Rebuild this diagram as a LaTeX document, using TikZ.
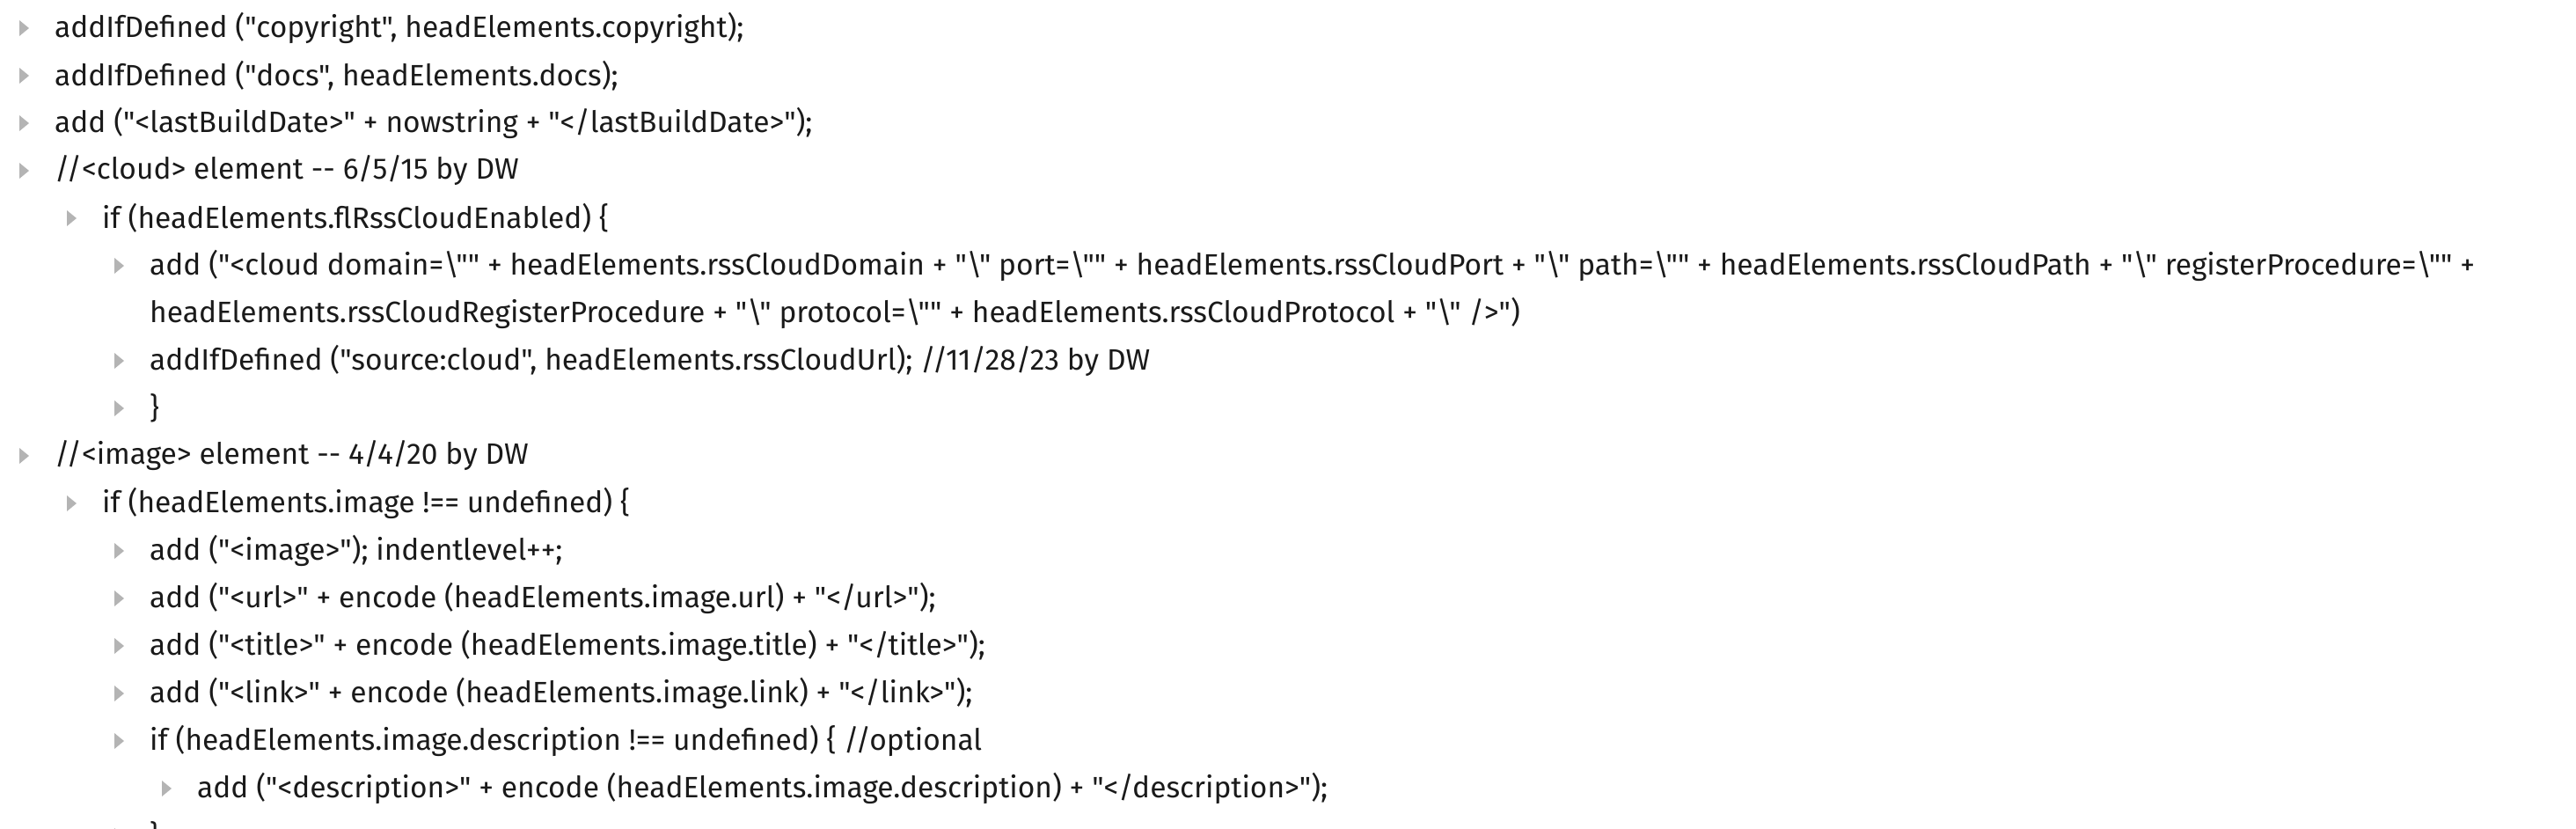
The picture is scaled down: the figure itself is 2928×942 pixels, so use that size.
\documentclass[tikz,border=0pt]{standalone}
\usepackage{fontspec}
\newfontfamily\codefont{Fira Sans}
\definecolor{txt}{HTML}{1A1A1A}
\definecolor{tri}{HTML}{B4B4B4}
\newcommand\codeln[4]{% name, level, line index, text
  \pgfmathsetmacro\yy{32+54*#3}\pgfmathsetmacro\xx{62+54*#2}
  \fill[tri] (\xx-40,\yy-9) -- (\xx-29,\yy) -- (\xx-40,\yy+9) -- cycle;
  \node[code] (#1) at (\xx,\yy) {#4};}
\newcommand\codelnc[4]{%
  \pgfmathsetmacro\yy{32+54*#3}\pgfmathsetmacro\xx{62+54*#2}
  \node[code] (#1) at (\xx,\yy) {#4};}
\begin{document}
\begin{tikzpicture}[x=1pt,y=-1pt,code/.style={anchor=west,inner sep=0pt,text=txt,font=\codefont\fontsize{33.5}{38}\selectfont}]
\useasboundingbox (0,0) rectangle (2928,942);
\codeln{l0}{0}{0}{addIfDefined ("copyright", headElements.copyright);}
\codeln{l1}{0}{1}{addIfDefined ("docs", headElements.docs);}
\codeln{l2}{0}{2}{add ("<lastBuildDate>" + nowstring + "</lastBuildDate>");}
\codeln{l3}{0}{3}{//<cloud> element -- 6/5/15 by DW}
\codeln{l4}{1}{4}{if (headElements.flRssCloudEnabled) \{}
\codeln{l5}{2}{5}{add ("<cloud domain=\textbackslash"" + headElements.rssCloudDomain + "\textbackslash" port=\textbackslash"" + headElements.rssCloudPort + "\textbackslash" path=\textbackslash"" + headElements.rssCloudPath + "\textbackslash" registerProcedure=\textbackslash"" +}
\codelnc{l6}{2}{6}{headElements.rssCloudRegisterProcedure + "\textbackslash" protocol=\textbackslash"" + headElements.rssCloudProtocol + "\textbackslash" />")}
\codeln{l7}{2}{7}{addIfDefined ("source:cloud", headElements.rssCloudUrl); //11/28/23 by DW}
\codeln{l8}{2}{8}{\}}
\codeln{l9}{0}{9}{//<image> element -- 4/4/20 by DW}
\codeln{l10}{1}{10}{if (headElements.image !== undefined) \{}
\codeln{l11}{2}{11}{add ("<image>"); indentlevel++;}
\codeln{l12}{2}{12}{add ("<url>" + encode (headElements.image.url) + "</url>");}
\codeln{l13}{2}{13}{add ("<title>" + encode (headElements.image.title) + "</title>");}
\codeln{l14}{2}{14}{add ("<link>" + encode (headElements.image.link) + "</link>");}
\codeln{l15}{2}{15}{if (headElements.image.description !== undefined) \{ //optional}
\codeln{l16}{3}{16}{add ("<description>" + encode (headElements.image.description) + "</description>");}
\codeln{l17}{2}{17}{\}}
\end{tikzpicture}
\end{document}
